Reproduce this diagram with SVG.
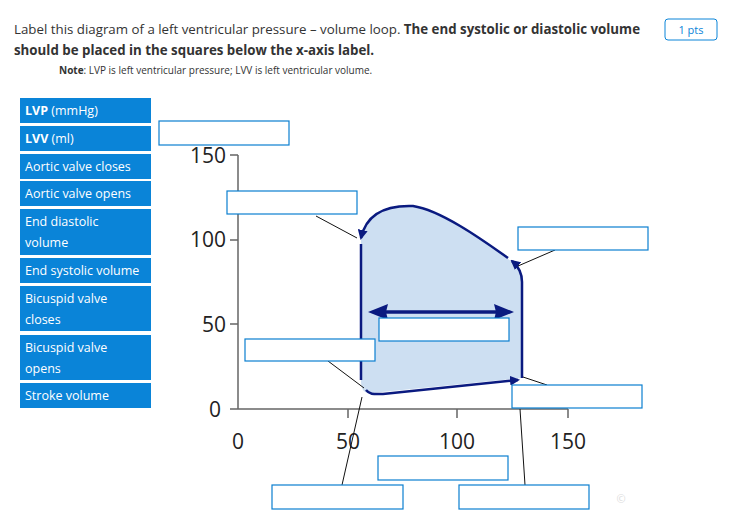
<svg xmlns="http://www.w3.org/2000/svg" width="751" height="526" viewBox="0 0 751 526">
<style>
text{font-family:"Open Sans","Liberation Sans",sans-serif;}
.h{font-size:13.3px;fill:#333}
.b{fill:#0a84d8}
.bt{font-size:12.5px;fill:#fff}
.box{fill:#fff;stroke:#0a7fd0;stroke-width:1.2}
.ax{stroke:#666;stroke-width:1.5;fill:none}
.tk{font-size:21px;fill:#222}
.ld{stroke:#111;stroke-width:1;fill:none}
.lp{fill:none;stroke:#0a1a80;stroke-width:2.5}
</style>
<defs>
<marker id="ah" viewBox="0 0 10 10" refX="8" refY="5" markerWidth="4" markerHeight="4" orient="auto"><path d="M0,0L10,5L0,10z" fill="#0a1a80"/></marker>
</defs>
<rect width="751" height="526" fill="#fff"/>
<text class="h" x="14" y="34">Label this diagram of a left ventricular pressure – volume loop.  <tspan font-weight="bold">The end systolic or diastolic volume</tspan></text>
<text class="h" x="14" y="55" font-weight="bold">should be placed in the squares below the x-axis label.</text>
<text x="59" y="74" font-size="10" fill="#333"><tspan font-weight="bold">Note</tspan>: LVP is left ventricular pressure; LVV is left ventricular volume.</text>
<rect x="665" y="19" width="52" height="21" rx="3" fill="#fff" stroke="#0a84d8"/>
<text x="691" y="34" font-size="11" fill="#0a84d8" text-anchor="middle">1 pts</text>
<g id="sidebar">
<rect class="b" x="20" y="98" width="131" height="25"/><text class="bt" x="25" y="115"><tspan font-weight="bold">LVP</tspan> (mmHg)</text>
<rect class="b" x="20" y="126" width="131" height="25"/><text class="bt" x="25" y="143"><tspan font-weight="bold">LVV</tspan> (ml)</text>
<rect class="b" x="20" y="154" width="131" height="25"/><text class="bt" x="25" y="171">Aortic valve closes</text>
<rect class="b" x="20" y="181" width="131" height="25"/><text class="bt" x="25" y="198">Aortic valve opens</text>
<rect class="b" x="20" y="209" width="131" height="46"/><text class="bt" x="25" y="226">End diastolic</text><text class="bt" x="25" y="247">volume</text>
<rect class="b" x="20" y="258" width="131" height="25"/><text class="bt" x="25" y="275">End systolic volume</text>
<rect class="b" x="20" y="286" width="131" height="45"/><text class="bt" x="25" y="303">Bicuspid valve</text><text class="bt" x="25" y="324">closes</text>
<rect class="b" x="20" y="335" width="131" height="45"/><text class="bt" x="25" y="352">Bicuspid valve</text><text class="bt" x="25" y="373">opens</text>
<rect class="b" x="20" y="383" width="131" height="25"/><text class="bt" x="25" y="400">Stroke volume</text>
</g>
<g id="axes">
<path class="ax" d="M238,155V409H568M230,155H238M230,240H238M230,324H238M230,409H238M348,409V418M457,409V418M568,409V418"/>
<text class="tk" x="226" y="163" text-anchor="end">150</text>
<text class="tk" x="226" y="247" text-anchor="end">100</text>
<text class="tk" x="226" y="332" text-anchor="end">50</text>
<text class="tk" x="221" y="417" text-anchor="end">0</text>
<text class="tk" x="238" y="449" text-anchor="middle">0</text>
<text class="tk" x="348" y="449" text-anchor="middle">50</text>
<text class="tk" x="457" y="449" text-anchor="middle">100</text>
<text class="tk" x="568" y="449" text-anchor="middle">150</text>
</g>
<g id="loop">
<path d="M361,240C364,215 385,205 413,206C440,208 490,245 512,262C520,270 522,275 522,280V378L372,393C364,394 361,390 361,380Z" fill="#cddff2"/>
<path class="lp" d="M361,380V244"/>
<path class="lp" d="M508,258C480,238 440,210 413,206C385,205 366,215 361,238" marker-end="url(#ah)"/>
<path class="lp" d="M522,378V282C522,272 518,266 512,261" marker-end="url(#ah)"/>
<path class="lp" d="M366,390C370,395 375,394 383,394L518,380" marker-end="url(#ah)"/>
<path d="M382,312H500" stroke="#0a1a80" stroke-width="3.5"/>
<path d="M368,312L388,304L386,312L388,320Z M514,312L494,304L496,312L494,320Z" fill="#0a1a80"/>
</g>
<g id="connectors">
<path class="ld" d="M316,216L357,238M555,250L518,266M328,361L364,388M523,377L547,385M342,485L362,397M525,485L520,409"/>
</g>
<g id="boxes">
<rect class="box" x="159" y="121" width="130" height="24"/>
<rect class="box" x="227" y="191" width="130" height="23"/>
<rect class="box" x="518" y="227" width="130" height="23"/>
<rect class="box" x="379" y="318" width="130" height="23"/>
<rect class="box" x="245" y="339" width="130" height="22"/>
<rect class="box" x="512" y="385" width="130" height="23"/>
<rect class="box" x="378" y="456" width="130" height="24"/>
<rect class="box" x="272" y="485" width="131" height="24"/>
<rect class="box" x="459" y="485" width="130" height="24"/>
</g>
<text x="621" y="503" font-size="11" fill="#ddd" text-anchor="middle">©</text>
</svg>
